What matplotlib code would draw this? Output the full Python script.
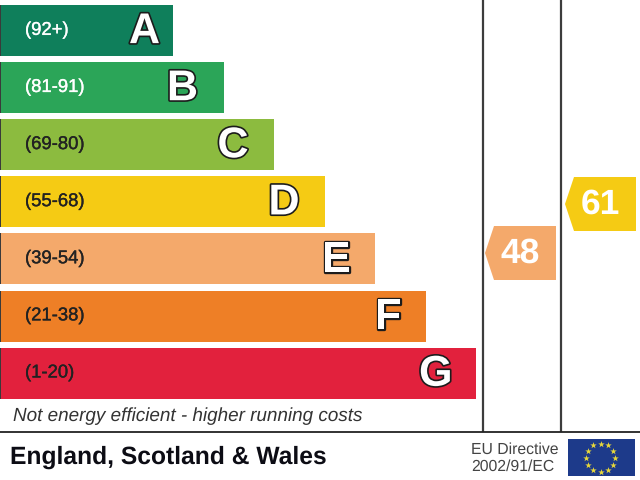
import numpy as np
import matplotlib
matplotlib.use("Agg")
import matplotlib.pyplot as plt
import matplotlib.patheffects as pe
from matplotlib.patches import Polygon, Rectangle

plt.rcParams['font.family'] = ['Liberation Sans', 'DejaVu Sans']
plt.rcParams['text.hinting'] = 'no_hinting'

letters = ['A', 'B', 'C', 'D', 'E', 'F', 'G']
ranges = ['(92+)', '(81-91)', '(69-80)', '(55-68)', '(39-54)', '(21-38)', '(1-20)']
bar_ends = [173, 224, 274, 325, 375, 426, 476]
colors = ['#0F7F5B', '#2BA558', '#8CBB3F', '#F5CB14', '#F4A96B', '#EE7F26', '#E2213D']
range_colors = ['white', 'white', '#222222', '#222222', '#222222', '#222222', '#222222']
current_value = 48
potential_value = 61

fig = plt.figure(figsize=(6.4, 4.8), dpi=100)
ax = fig.add_axes([0, 0, 1, 1])
ax.set_xlim(0, 640)
ax.set_ylim(480, 0)
ax.axis('off')

tops = [5 + 57.1 * i for i in range(7)]
ax.barh([t + 25.5 for t in tops], bar_ends, height=51, left=0, color=colors, zorder=2)
ax.barh([t + 25.5 for t in tops], [1.3] * 7, height=51, left=0, color='#3a3a3a', zorder=3)

outline = [pe.withStroke(linewidth=2.4, foreground='#1c1c1c')]
letter_insets = [13, 26, 25.5, 25.5, 24.5, 24.5, 23.5]
for t, e, l, r, rc, inset in zip(tops, bar_ends, letters, ranges, range_colors, letter_insets):
    ax.text(25, t + 25.2, r, fontsize=13.3, color=rc, ha='left', va='center', zorder=4,
            path_effects=[pe.withStroke(linewidth=0.25, foreground=rc)])
    ax.text(e - inset, t + 27, l, fontsize=31, fontweight='bold', color='white', ha='right',
            va='center', zorder=4, path_effects=outline)

ax.text(13, 416, 'Not energy efficient - higher running costs', fontsize=13.6,
        style='italic', color='#333333', ha='left', va='center')

# frame lines
ax.plot([482.5, 482.5], [0, 431], color='#3c3c3c', lw=1.6, zorder=1)
ax.plot([561, 561], [0, 431], color='#3c3c3c', lw=1.6, zorder=1)
ax.plot([0, 640], [431.5, 431.5], color='#222222', lw=1.3, zorder=1)


def arrow(val, left, top, col):
    w, h = 71, 54
    ax.add_patch(Polygon([(left, top + h / 2), (left + 9, top), (left + w, top), (left + w, top + h),
                          (left + 9, top + h)], closed=True, color=col, lw=0, zorder=3))
    ax.text(left + 35.5, top + h / 2 + 1, str(val), fontsize=25.5, fontweight='bold', color='white',
            ha='center', va='center', zorder=4)


arrow(current_value, 485, 226, colors[4])
arrow(potential_value, 565, 177, colors[3])

ax.text(10, 457, 'England, Scotland & Wales', fontsize=17.7, fontweight='bold', color='#0c0c14',
        ha='left', va='center')
ax.text(471, 449.5, 'EU Directive', fontsize=11.3, color='#444444', ha='left', va='center')
ax.text(471, 467, '2002/91/EC', fontsize=11.3, color='#444444', ha='left', va='center')

ax.add_patch(Rectangle((567.5, 438.5), 67, 37.5, color='#1D3A8A', lw=0, zorder=2))
ang = np.deg2rad(np.arange(0, 360, 30))
ax.scatter(600.5 + 14.5 * np.cos(ang), 457.5 + 14 * np.sin(ang), marker='*', s=24,
           color='#E8D83A', lw=0, zorder=3)

fig.savefig('out.png', dpi=100)
